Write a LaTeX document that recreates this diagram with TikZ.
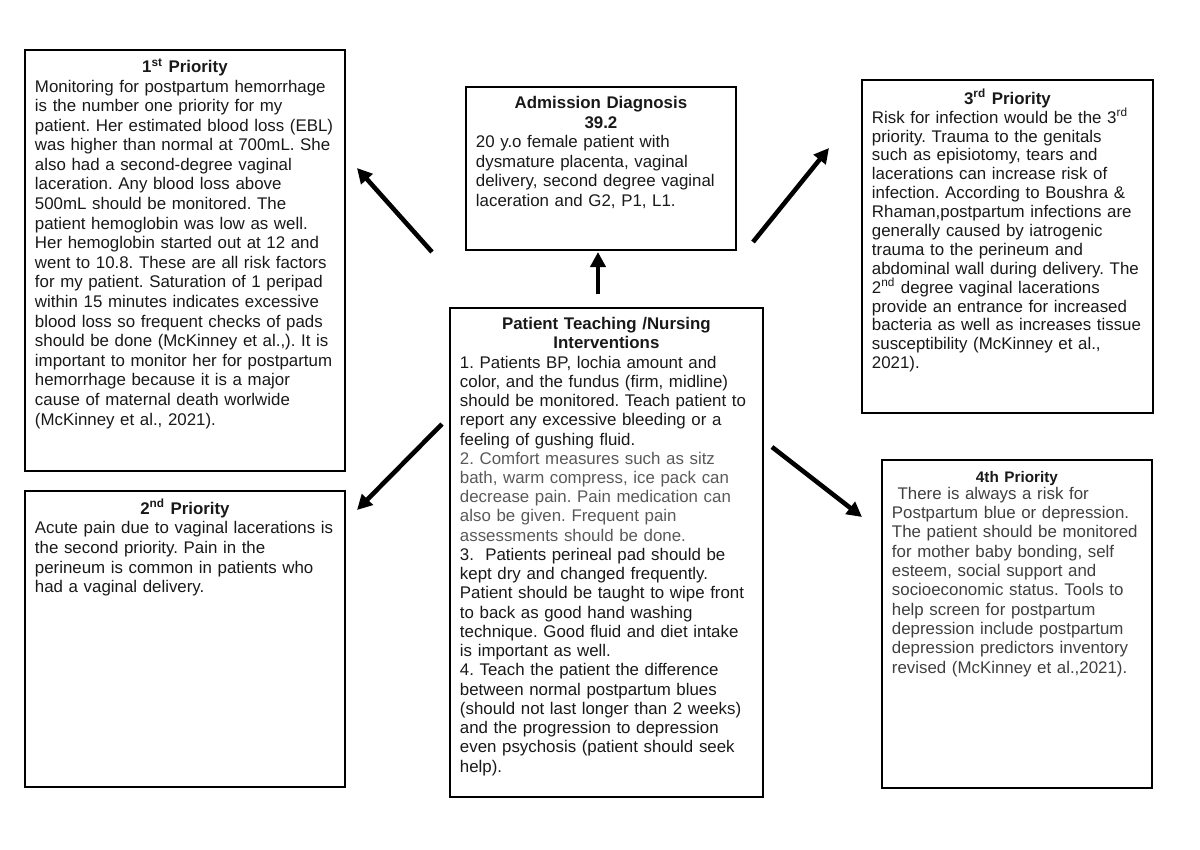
\documentclass[tikz,border=0pt]{standalone}
\usepackage{fontspec}
\setmainfont{Liberation Sans}
\usepackage{xcolor}
\usetikzlibrary{positioning}
\usetikzlibrary{arrows.meta}
\frenchspacing

\tikzset{
  box/.style={draw, line width=1.1pt, anchor=north west, inner sep=0pt},
  boxtext/.style={anchor=north, inner sep=0pt, text=black!90,
    font=\fontsize{9.6}{11.15}\selectfont},
  link/.style={line width=2.6pt, -{Triangle[length=0.3cm,width=0.3cm]}}
}

\begin{document}
\begin{tikzpicture}[x=0.02cm,y=-0.02cm]
  \useasboundingbox (0,0) rectangle (1200,849);
  % boxes
  \node[box, minimum width=6.4cm, minimum height=8.42cm] (p1) at (24,49) {};
  \node[box, minimum width=6.4cm, minimum height=5.92cm] (p2) at (24,490) {};
  \node[box, minimum width=5.4cm, minimum height=3.26cm] (adm) at (465,86) {};
  \node[box, minimum width=6.26cm, minimum height=9.78cm] (teach) at (449,307) {};
  \node[box, minimum width=5.82cm, minimum height=6.66cm] (p3) at (861,79) {};
  \node[box, minimum width=5.4cm, minimum height=6.56cm] (p4) at (881,459) {};

  % texts
  \node[boxtext, text width=6.0cm, below=0.18cm of p1.north] (p1t) {%
    {\centering\bfseries 1\textsuperscript{st} Priority\par}
    \raggedright Monitoring for postpartum hemorrhage\\
    is the number one priority for my\\
    patient. Her estimated blood loss (EBL)\\
    was higher than normal at 700mL. She\\
    also had a second-degree vaginal\\
    laceration. Any blood loss above\\
    500mL should be monitored. The\\
    patient hemoglobin was low as well.\\
    Her hemoglobin started out at 12 and\\
    went to 10.8. These are all risk factors\\
    for my patient. Saturation of 1 peripad\\
    within 15 minutes indicates excessive\\
    blood loss so frequent checks of pads\\
    should be done (McKinney et al.,). It is\\
    important to monitor her for postpartum\\
    hemorrhage because it is a major\\
    cause of maternal death worlwide\\
    (McKinney et al., 2021).};
  \node[boxtext, text width=6.0cm, below=0.18cm of p2.north] (p2t) {%
    {\centering\bfseries 2\textsuperscript{nd} Priority\par}
    \raggedright Acute pain due to vaginal lacerations is\\
    the second priority. Pain in the\\
    perineum is common in patients who\\
    had a vaginal delivery.};
  \node[boxtext, text width=5.0cm, below=0.2cm of adm.north] (admt) {%
    {\centering\bfseries Admission Diagnosis\\ 39.2\par}
    \raggedright 20 y.o female patient with\\
    dysmature placenta, vaginal\\
    delivery, second degree vaginal\\
    laceration and G2, P1, L1.};
  \node[boxtext, text width=5.86cm, below=0.2cm of teach.north,
    font=\fontsize{9.6}{10.95}\selectfont] (teacht) {%
    {\centering\bfseries Patient Teaching /Nursing\\ Interventions\par}
    \raggedright 1. Patients BP, lochia amount and\\
    color, and the fundus (firm, midline)\\
    should be monitored. Teach patient to\\
    report any excessive bleeding or a\\
    feeling of gushing fluid.\\
    {\color{black!65}2. Comfort measures such as sitz\\
    bath, warm compress, ice pack can\\
    decrease pain. Pain medication can\\
    also be given. Frequent pain\\
    assessments should be done.}\\
    3.~ Patients perineal pad should be\\
    kept dry and changed frequently.\\
    Patient should be taught to wipe front\\
    to back as good hand washing\\
    technique. Good fluid and diet intake\\
    is important as well.\\
    4. Teach the patient the difference\\
    between normal postpartum blues\\
    (should not last longer than 2 weeks)\\
    and the progression to depression\\
    even psychosis (patient should seek\\
    help).};
  \node[boxtext, text width=5.42cm, below=0.2cm of p3.north,
    font=\fontsize{9.6}{10.75}\selectfont] (p3t) {%
    {\centering\bfseries 3\textsuperscript{rd} Priority\par}
    \raggedright Risk for infection would be the 3\textsuperscript{rd}\\
    priority. Trauma to the genitals\\
    such as episiotomy, tears and\\
    lacerations can increase risk of\\
    infection. According to Boushra \&\\
    Rhaman,postpartum infections are\\
    generally caused by iatrogenic\\
    trauma to the perineum and\\
    abdominal wall during delivery. The\\
    2\textsuperscript{nd} degree vaginal lacerations\\
    provide an entrance for increased\\
    bacteria as well as increases tissue\\
    susceptibility (McKinney et al.,\\
    2021).};
  \node[boxtext, text width=5.0cm, below=0.24cm of p4.north,
    font=\fontsize{9.6}{11.0}\selectfont] (p4t) {%
    {\centering\bfseries\fontsize{8.7}{10}\selectfont 4th Priority\par}
    \vspace{-1.5pt}
    \raggedright\color{black!75}~There is always a risk for\\
    Postpartum blue or depression.\\
    The patient should be monitored\\
    for mother baby bonding, self\\
    esteem, social support and\\
    socioeconomic status. Tools to\\
    help screen for postpartum\\
    depression include postpartum\\
    depression predictors inventory\\
    revised (McKinney et al.,2021).};

  % arrows
  \coordinate (up0) at (598,294);  \coordinate (up1) at (598,252);
  \coordinate (nw0) at (432,252);  \coordinate (nw1) at (357,168);
  \coordinate (sw0) at (442,424);  \coordinate (sw1) at (357,510);
  \coordinate (ne0) at (753,242);  \coordinate (ne1) at (829,148);
  \coordinate (se0) at (772,447);  \coordinate (se1) at (862,517);
  \draw[link] (up0) -- (up1);
  \draw[link] (nw0) -- (nw1);
  \draw[link] (sw0) -- (sw1);
  \draw[link] (ne0) -- (ne1);
  \draw[link] (se0) -- (se1);
\end{tikzpicture}
\end{document}
